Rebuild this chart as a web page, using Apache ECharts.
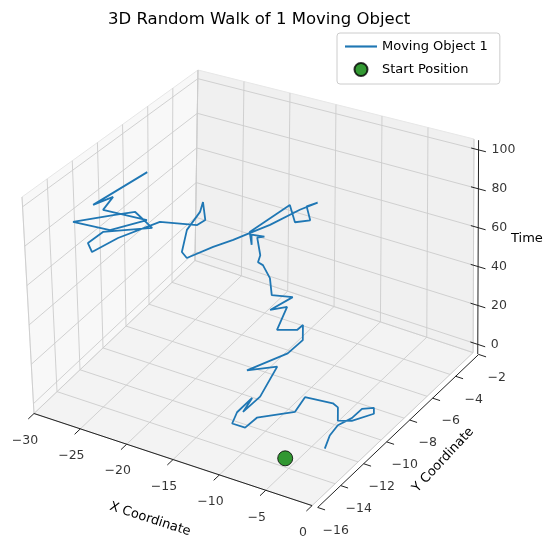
<!DOCTYPE html>
<html>
<head>
<meta charset="utf-8">
<script src="https://cdn.jsdelivr.net/npm/echarts@6/dist/echarts.min.js"></script>
<style>html,body{margin:0;padding:0;background:#fff}#chart{width:550px;height:547px}</style>
</head>
<body>
<div id="chart"></div>
<script>
// walk: time step, x, y
var walkTime = [0,1,3,4,6,7,8,10,11,13,14,15,17,18,20,21,23,24,25,27,28,30,31,32,34,35,37,38,39,41,42,44,45,46,48,49,51,52,53,55,56,58,59,61,62,63,65,66,68,69,70,72,73,75,76,77,79,80,82,83,84,86,87,89,90,92,93,94,96,97,99,100];
var walkX = [-2.86,-3.40,-3.26,-2.57,-2.18,-1.14,-0.44,-1.22,-2.16,-2.94,-3.51,-6.10,-5.21,-7.55,-7.21,-8.42,-8.64,-8.52,-7.79,-7.41,-8.58,-10.27,-8.38,-8.19,-9.20,-9.02,-10.25,-11.39,-12.28,-11.30,-12.98,-14.36,-15.97,-16.46,-16.57,-18.33,-17.47,-18.51,-17.33,-18.36,-17.60,-15.13,-13.91,-15.20,-14.51,-15.04,-15.54,-16.13,-16.38,-17.08,-17.86,-18.46,-20.11,-20.50,-21.08,-18.84,-18.55,-21.67,-22.92,-23.32,-24.38,-23.91,-20.16,-22.79,-23.90,-26.07,-21.99,-19.88,-24.07,-24.46,-24.75,-23.77];
var walkY = [-12.55,-11.68,-11.08,-10.42,-9.84,-9.64,-10.19,-11.46,-11.90,-11.26,-11.23,-11.56,-13.10,-14.50,-15.75,-15.89,-15.28,-14.08,-15.42,-14.25,-11.88,-13.10,-11.13,-10.00,-9.19,-9.82,-10.54,-8.80,-9.53,-8.39,-8.84,-7.92,-7.26,-7.29,-7.01,-5.91,-5.97,-6.24,-7.13,-6.50,-3.76,-5.22,-4.89,-4.20,-3.82,-4.88,-6.95,-8.13,-9.32,-10.43,-11.99,-11.93,-10.27,-8.90,-8.22,-9.71,-10.58,-11.26,-13.71,-15.51,-15.04,-14.16,-12.97,-12.37,-13.18,-14.92,-14.96,-13.55,-13.96,-12.86,-14.23,-10.62];
var startPos = [-5.2, -14.1, 0];

var xTicks = [-30,-25,-20,-15,-10,-5,0];
var yTicks = [-16,-14,-12,-10,-8,-6,-4,-2];
var zTicks = [0,20,40,60,80,100];
var xLim = [-30, 0], yLim = [-16, -2], zLim = [-5, 105];

// screen frame of the box: bottom face and top face
var B0 = {o: [34, 413.5], ex: [9.27, 3.07], ey: [11.5, -10.93]};
var B1 = {o: [22, 197], ex: [9.2, 2.3], ey: [12.57, -9.07]};

function proj(x, y, z) {
    var X = x - xLim[0], Y = y - yLim[0];
    var t = (z - zLim[0]) / (zLim[1] - zLim[0]);
    function f(b) { return [b.o[0] + X * b.ex[0] + Y * b.ey[0], b.o[1] + X * b.ex[1] + Y * b.ey[1]]; }
    var a = f(B0), c = f(B1);
    return [a[0] + (c[0] - a[0]) * t, a[1] + (c[1] - a[1]) * t];
}
function seg(p, q) { return {coords: [p, q]}; }
function minus(v) { return String(v).replace('-', '\u2212'); }

var x0 = xLim[0], x1 = xLim[1], y0 = yLim[0], y1 = yLim[1], z0 = zLim[0], z1 = zLim[1];
var panes = [
    {pts: [[x0,y0,z0],[x1,y0,z0],[x1,y1,z0],[x0,y1,z0]], color: '#f3f3f3'},
    {pts: [[x0,y0,z0],[x0,y1,z0],[x0,y1,z1],[x0,y0,z1]], color: '#f8f8f8'},
    {pts: [[x0,y1,z0],[x1,y1,z0],[x1,y1,z1],[x0,y1,z1]], color: '#f0f0f0'}
];

var gridSegs = [];
xTicks.forEach(function (v) {
    gridSegs.push(seg(proj(v, y0, z0), proj(v, y1, z0)));
    gridSegs.push(seg(proj(v, y1, z0), proj(v, y1, z1)));
});
yTicks.forEach(function (v) {
    gridSegs.push(seg(proj(x0, v, z0), proj(x1, v, z0)));
    gridSegs.push(seg(proj(x0, v, z0), proj(x0, v, z1)));
});
zTicks.forEach(function (v) {
    gridSegs.push(seg(proj(x0, y0, v), proj(x0, y1, v)));
    gridSegs.push(seg(proj(x0, y1, v), proj(x1, y1, v)));
});

var axisSegs = [
    seg(proj(x0, y0, z0), proj(x1, y0, z0)),
    seg(proj(x1 + 0.6, y0, z0), proj(x1 + 0.6, y1, z0)),
    seg(proj(x1 + 0.5, y1, z0), proj(x1 + 0.5, y1, z1))
];
xTicks.forEach(function (v) { axisSegs.push(seg(proj(v, y0, z0), proj(v, y0 - 0.5, z0))); });
yTicks.forEach(function (v) { axisSegs.push(seg(proj(x1 + 0.6, v, z0), proj(x1 + 1.4, v, z0))); });
zTicks.forEach(function (v) { axisSegs.push(seg(proj(x1 - 0.3, y1, v), proj(x1 + 1.3, y1, v))); });

var labelFont = {fontFamily: 'DejaVu Sans', fontSize: 12.5, color: '#000'};
function tickLabels(ticks, fn, offset, align) {
    return {
        type: 'scatter', symbolSize: 0, silent: true, z: 5,
        data: ticks.map(function (v) { return {value: fn(v), name: minus(v)}; }),
        label: Object.assign({show: true, position: 'inside', formatter: '{b}', offset: offset, align: align || 'center'}, labelFont)
    };
}

var walkData = walkTime.map(function (t, i) { return proj(walkX[i], walkY[i], t); });

var chart = echarts.init(document.getElementById('chart'));
chart.setOption({
    animation: false,
    title: {text: '3D Random Walk of 1 Moving Object', left: 103, top: 6,
        textStyle: {fontFamily: 'DejaVu Sans', fontSize: 16.5, fontWeight: 'normal', color: '#000'}},
    legend: {
        data: [{name: 'Moving Object 1', icon: 'path://M0,5L30,5L30,7L0,7Z'}, {name: 'Start Position', icon: 'circle'}],
        orient: 'vertical', left: 337, top: 33, itemGap: 9, itemWidth: 32, itemHeight: 13,
        padding: [7, 12, 7, 8], borderColor: '#cccccc', borderWidth: 1, borderRadius: 3,
        backgroundColor: 'rgba(255,255,255,0.8)',
        textStyle: {fontFamily: 'DejaVu Sans', fontSize: 13, color: '#000'}
    },
    grid: {left: 0, right: 0, top: 0, bottom: 0},
    xAxis: {type: 'value', min: 0, max: 550, show: false},
    yAxis: {type: 'value', min: 0, max: 547, inverse: true, show: false},
    graphic: [
        {type: 'text', left: 108, top: 500, rotation: -18 * Math.PI / 180,
            style: {text: 'X Coordinate', fontFamily: 'DejaVu Sans', fontSize: 13, fill: '#000'}},
        {type: 'text', x: 410, y: 486, rotation: 47 * Math.PI / 180,
            style: {text: 'Y Coordinate', fontFamily: 'DejaVu Sans', fontSize: 13, fill: '#000'}},
        {type: 'text', left: 511, top: 232,
            style: {text: 'Time', fontFamily: 'DejaVu Sans', fontSize: 13, fill: '#000'}}
    ],
    series: [
        {
            type: 'custom', silent: true, z: 1,
            data: panes.map(function (p, i) { return i; }),
            renderItem: function (params, api) {
                var p = panes[params.dataIndex];
                return {type: 'polygon', shape: {points: p.pts.map(function (q) { return api.coord(proj(q[0], q[1], q[2])); })},
                    style: {fill: p.color, stroke: '#e6e6e6', lineWidth: 1}};
            }
        },
        {type: 'lines', coordinateSystem: 'cartesian2d', silent: true, z: 2, data: gridSegs,
            lineStyle: {color: '#cccccc', width: 0.9, opacity: 1}},
        {type: 'lines', coordinateSystem: 'cartesian2d', silent: true, z: 3, data: axisSegs,
            lineStyle: {color: '#222', width: 1, opacity: 1}},
        tickLabels(xTicks, function (v) { return proj(v, y0, z0); }, [-9, 27]),
        tickLabels(yTicks, function (v) { return proj(x1 + 0.6, v, z0); }, [18, 23]),
        tickLabels(zTicks, function (v) { return proj(x1 + 0.5, y1, v); }, [13, 0], 'left'),
        {name: 'Moving Object 1', type: 'line', data: walkData, showSymbol: false, symbol: 'none', z: 6,
            lineStyle: {color: '#1f77b4', width: 1.8}, itemStyle: {color: '#1f77b4'}},
        {name: 'Start Position', type: 'scatter', z: 7, symbolSize: 15,
            data: [proj(startPos[0], startPos[1], startPos[2])],
            itemStyle: {color: '#008000', borderColor: '#000', borderWidth: 1}}
    ]
});
</script>
</body>
</html>
